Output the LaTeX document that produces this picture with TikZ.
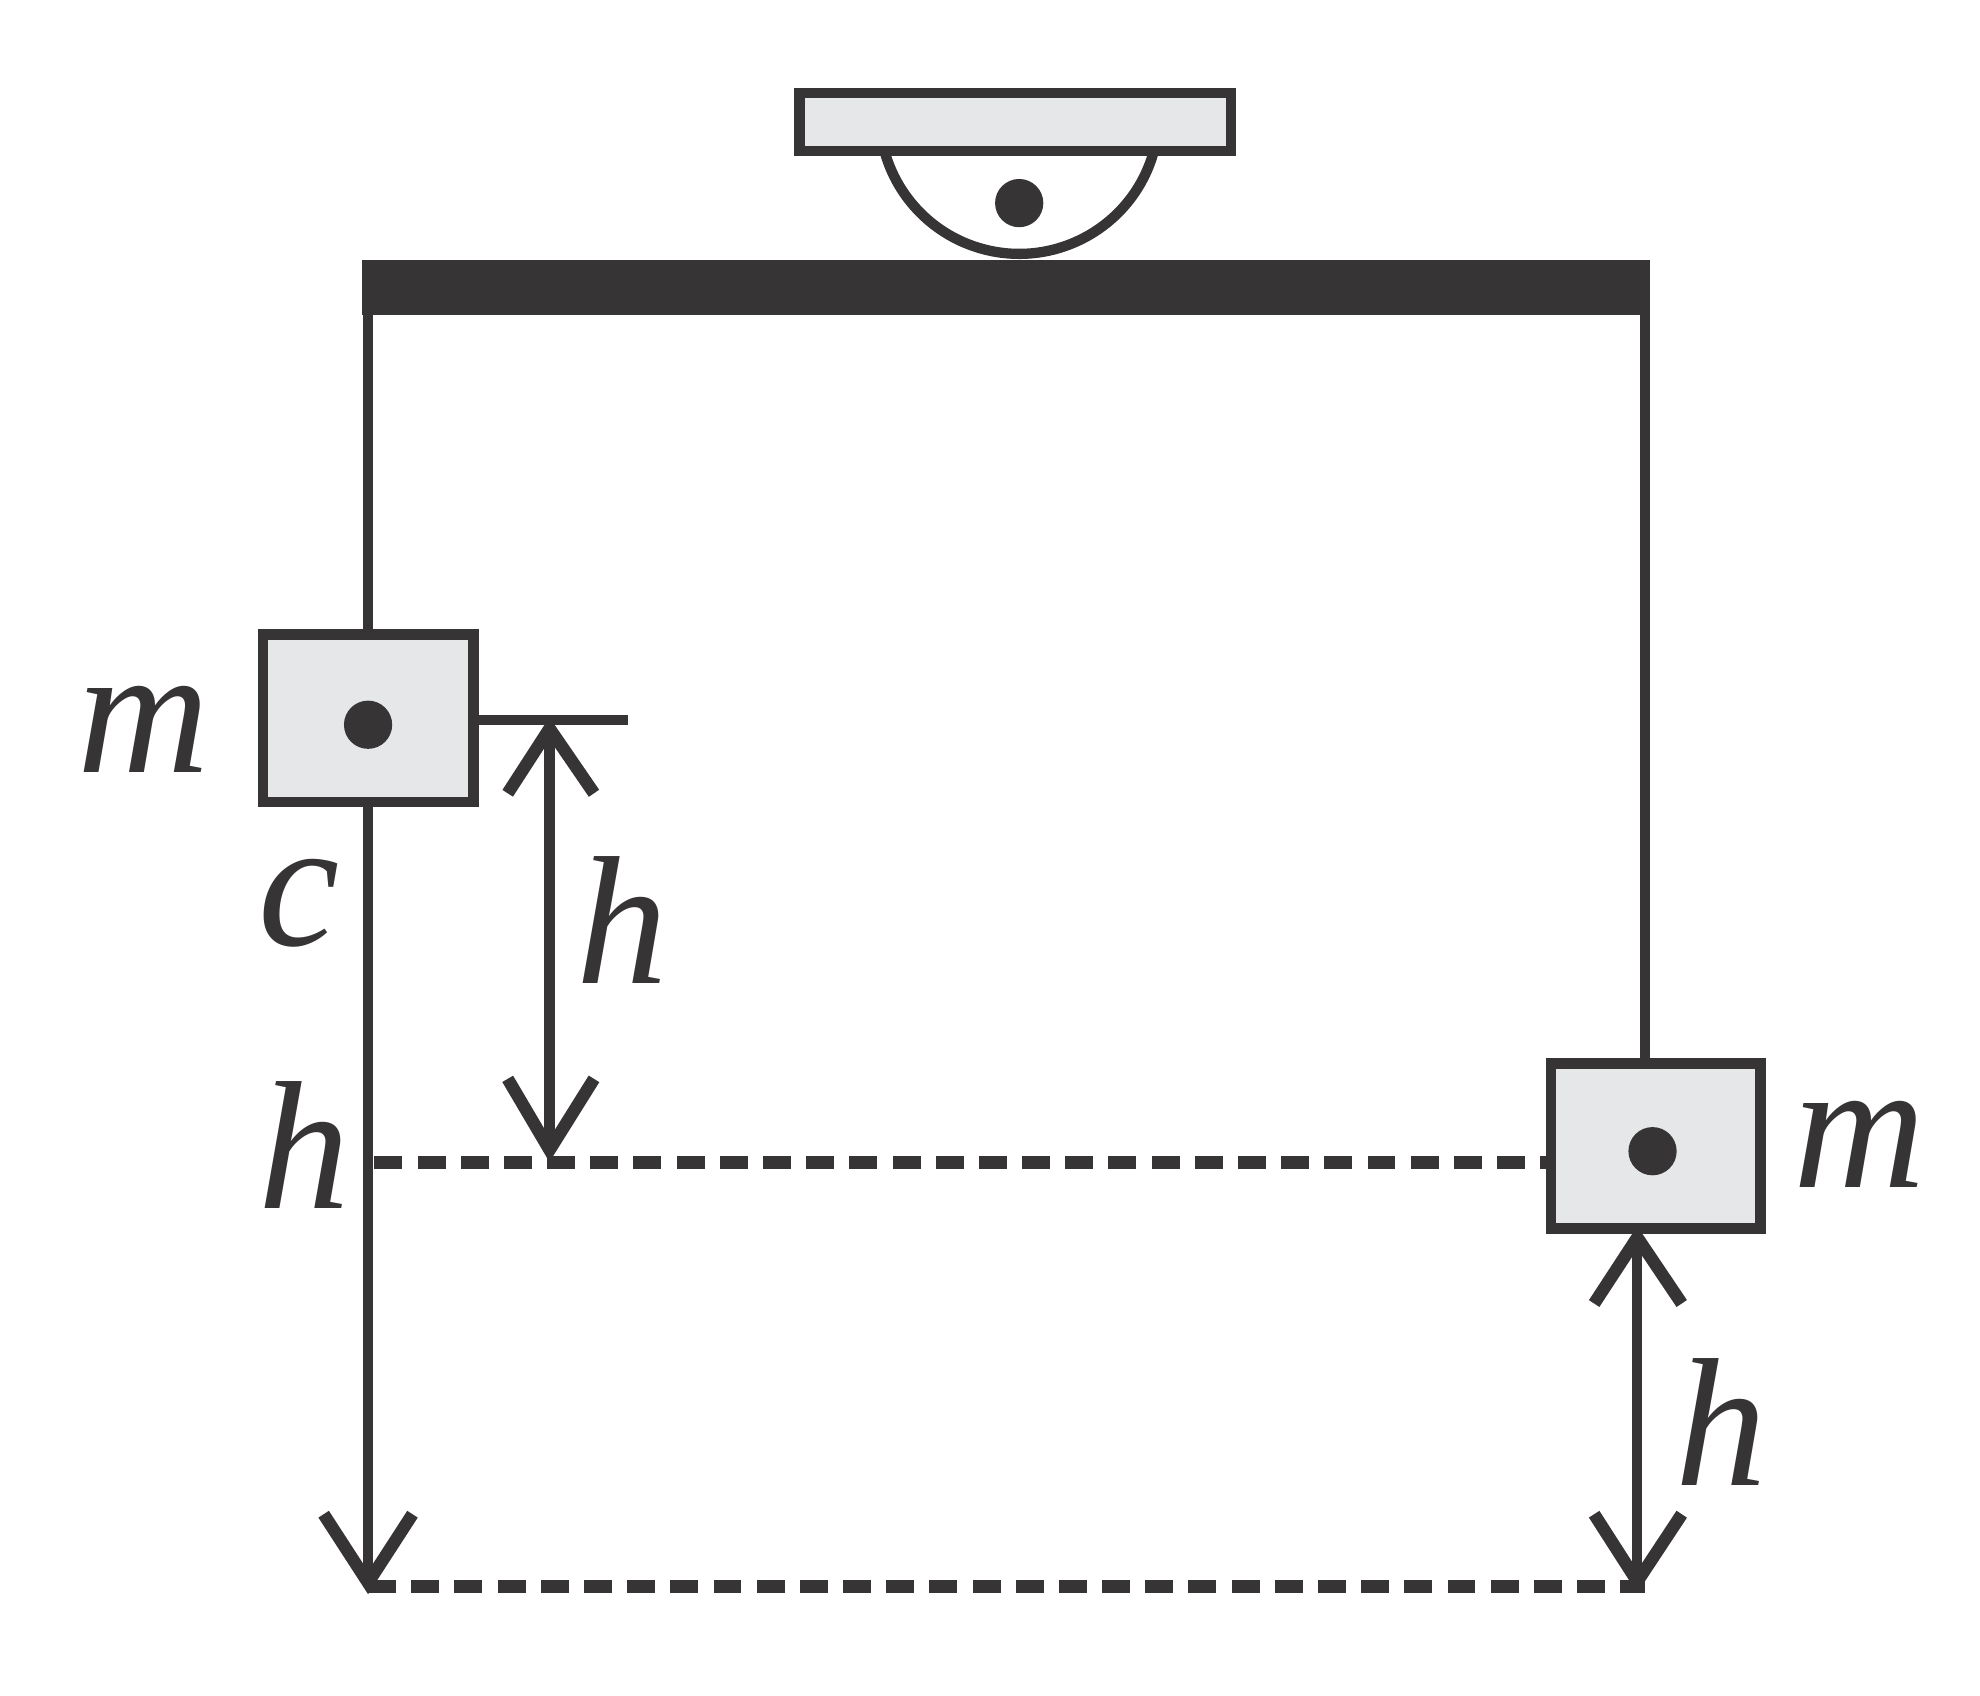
\documentclass[tikz,border=0pt]{standalone}
\usepackage{fontspec}
\setmainfont{Liberation Serif}
\usepackage{tikz}
\definecolor{Ink}{HTML}{363435}
\definecolor{Pane}{HTML}{E6E7E8}
\begin{document}
\begin{tikzpicture}[x=0.01cm, y=-0.01cm, line width=2.3pt, draw=Ink,
  lbl/.style={text=Ink, font=\fontsize{41}{44}\selectfont\itshape},
  level/.style={line width=2.8pt, dash pattern=on 0.22cm off 0.12cm},
  tip/.style={line width=2.8pt}]
	\useasboundingbox (0,0) rectangle (1560,1336);
	% pulley
	\filldraw[fill=white] (803,90) ++(15:110) arc (15:165:110) -- cycle;
	\filldraw[fill=Pane] (630,73) rectangle (970,119);
	\fill[Ink] (803,160) circle (19);
	\fill[Ink] (285,205) rectangle (1300,248);
	% ropes
	\draw (290,248) -- (290,500);
	\draw (290,632) -- (290,1250);
	\draw (1296,248) -- (1296,838);
	% blocks
	\filldraw[fill=Pane] (207,500) rectangle (373,632);
	\fill[Ink] (290,571) circle (19);
	\filldraw[fill=Pane] (1222,838) rectangle (1387,968);
	\fill[Ink] (1302,907) circle (19);
	% levels
	\draw (373,567) -- (495,567);
	\draw[level] (295,916) -- (1222,916);
	\draw[level] (290,1250) -- (1296,1250);
	% arrows
	\draw (433,575) -- (433,905);
	\draw[tip] (400,625) -- (433,574) -- (468,625);
	\draw[tip] (400,850) -- (433,906) -- (468,850);
	\draw[tip] (255,1193) -- (290,1247) -- (325,1193);
	\draw (1290,975) -- (1290,1245);
	\draw[tip] (1256,1027) -- (1290,975) -- (1325,1027);
	\draw[tip] (1256,1193) -- (1290,1246) -- (1325,1193);
	% labels
	\node[lbl] (m1) at (113,575) {m};
	\node[lbl] (c1) at (236,712) {c};
	\node[lbl] (h1) at (490,725) {h};
	\node[lbl] (h2) at (240,902) {h};
	\node[lbl] (m2) at (1465,902) {m};
	\node[lbl] (h3) at (1356,1120) {h};
\end{tikzpicture}
\end{document}
